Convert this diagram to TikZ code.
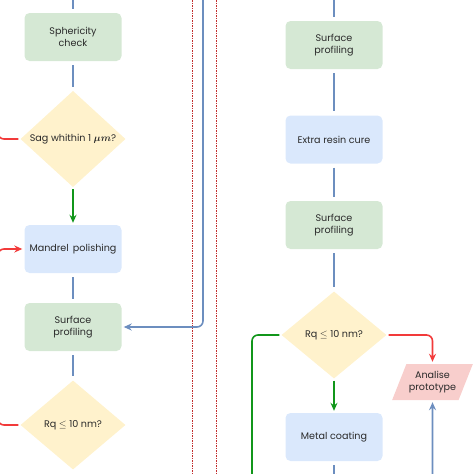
\documentclass[tikz,border=0pt]{standalone}
\usepackage{amsmath}
\usepackage{fontspec}
\setmainfont{Poppins}
\usetikzlibrary{shapes.geometric}
\usetikzlibrary{arrows.meta}
\tikzset{>={Stealth[width=7pt,length=8pt]}}

\definecolor{flowblue}{HTML}{6C8EBF}
\definecolor{flowred}{HTML}{F23A3A}
\definecolor{flowgreen}{HTML}{11961A}
\definecolor{boxgreen}{HTML}{D5E8D4}
\definecolor{boxblue}{HTML}{DAE8FC}
\definecolor{boxyellow}{HTML}{FFF2CC}
\definecolor{boxred}{HTML}{F8CECC}
\definecolor{textgrey}{HTML}{2A2A2A}

\tikzset{
  procbox/.style={rectangle, rounded corners=5pt, minimum width=97pt, minimum height=48pt,
    align=center, text=textgrey, font=\fontsize{9.6}{11.5}\selectfont, inner sep=1pt},
  greenbox/.style={procbox, fill=boxgreen},
  bluebox/.style={procbox, fill=boxblue},
  decbox/.style={diamond, fill=boxyellow, minimum width=105pt, minimum height=87pt,
    inner sep=0pt, align=center, text=textgrey, font=\fontsize{9.6}{11.5}\selectfont},
  outbox/.style={trapezium, trapezium left angle=60, trapezium right angle=120,
    trapezium stretches=true, fill=boxred, minimum width=81pt, minimum height=36pt,
    inner sep=1pt, align=center, text=textgrey, font=\fontsize{9.6}{11.5}\selectfont},
  link/.style={flowblue, line width=1.6pt, shorten <=4pt, shorten >=4pt},
  nolink/.style={flowred, line width=1.6pt, rounded corners=6pt},
  yeslink/.style={flowgreen, line width=1.6pt, rounded corners=6pt},
  divider/.style={flowred!80!black, line width=0.9pt, dash pattern=on 1.5pt off 1pt},
}

\begin{document}
\begin{tikzpicture}[x=1pt, y=-1pt]

  \useasboundingbox (0,0) rectangle (474,474);
  \clip (0,0) rectangle (474,474);

  %% left column
  \node[greenbox] (sph) at (73,37) {Sphericity\\check};
  \node[decbox] (sag) at (73,139) {Sag whithin 1 $\boldsymbol{\mu m}$?};
  \node[bluebox] (mand) at (73,249) {Mandrel\, polishing};
  \node[greenbox] (surf) at (73,327) {Surface\\profiling};
  \node[decbox, minimum height=89pt] (rqa) at (73,425) {Rq $\leq$ 10 nm?};

  %% right column
  \node[greenbox] (rsurfa) at (334,45) {Surface\\profiling};
  \node[bluebox] (resin) at (334,139.5) {Extra resin cure};
  \node[greenbox] (rsurfb) at (334,225) {Surface\\profiling};
  \node[decbox] (rqb) at (334,335) {Rq $\leq$ 10 nm?};
  \node[bluebox] (metal) at (334,437) {Metal coating};
  \node[outbox] (anal) at (432.5,382) {Analise\\prototype};

  %% free ends
  \coordinate (intopL) at (73,-10);
  \coordinate (intopR) at (334,-10);
  \coordinate (outbotR) at (334,484);
  \coordinate (backtop) at (203,-10);
  \coordinate (analbot) at (432.5,484);
  \coordinate (greenbot) at (252,484);
  \coordinate (sagback) at (-2,-10);

  %% dividers
  \draw[divider] (192,-5) -- (192,480);
  \draw[divider] (216,-5) -- (216,480);

  %% plain links
  \draw[link, shorten <=0pt] (intopL) -- (sph);
  \draw[link] (sph) -- (sag);
  \draw[link] (mand) -- (surf);
  \draw[link] (surf) -- (rqa);
  \draw[link, shorten <=0pt] (intopR) -- (rsurfa);
  \draw[link] (rsurfa) -- (resin);
  \draw[link] (resin) -- (rsurfb);
  \draw[link] (rsurfb) -- (rqb);
  \draw[link, shorten >=0pt] (metal) -- (outbotR);

  %% yes / no
  \draw[yeslink, ->, shorten <=2pt, shorten >=2pt] (sag) -- (mand);
  \draw[yeslink, ->, shorten <=2pt, shorten >=2pt] (rqb) -- (metal);
  \draw[nolink, shorten <=2pt] (sag.west) -- (sagback |- sag.west) -- (sagback);
  \draw[nolink, ->, shorten <=2pt, shorten >=2pt] (rqa.west) -- (-2,425) -- (-2,249) -- (mand.west);
  \draw[nolink, ->, shorten <=2pt, shorten >=2pt] (rqb.east) -- (anal.north |- rqb.east) -- (anal.north);
  \draw[yeslink, shorten <=2pt] (rqb.west) -- (greenbot |- rqb.west) -- (greenbot);

  %% feedback
  \draw[flowblue, line width=1.6pt, rounded corners=6pt, ->, shorten >=2pt] (backtop) -- (backtop |- surf.east) -- (surf.east);
  \draw[flowblue, line width=1.6pt, ->, shorten >=2pt] (analbot) -- (anal.south);

\end{tikzpicture}
\end{document}
